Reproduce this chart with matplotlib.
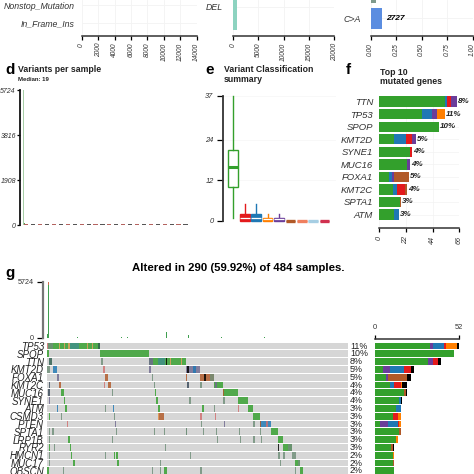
import matplotlib
matplotlib.use('Agg')
import matplotlib.pyplot as plt

plt.rcParams['font.family'] = ['Liberation Sans', 'DejaVu Sans']

W, H = 474, 474

COL = {'g': '#33a02c', 'b': '#1f78b4', 'r': '#e31a1c', 'p': '#6a3d9a', 'o': '#ff7f00',
       'n': '#b15928', 'k': '#000000', 's': '#6f8f78', 't': '#3f8f8a', 'd': '#2f5f4f',
       'l': '#e8a060', 'm': '#d07070', 'v': '#706a90', 'y': '#3a4a5a'}

# top row summary bars
class_names = ['In_Frame_Ins', 'Nonstop_Mutation']
class_counts = [30, 20]
class_ticks = [0, 2000, 4000, 6000, 8000, 10000, 12000, 14000]
type_names = ['DEL']
type_counts = [850]
type_ticks = [0, 5000, 10000, 15000, 20000]
snv_names = ['C>A', 'C>G']
snv_fracs = [0.114, 0.05]
snv_counts = [2727, 1200]
snv_ticks = [0, 0.25, 0.5, 0.75, 1.0]
snv_tick_labels = ['0.00', '0.25', '0.50', '0.75', '1.00']

# variants per sample, sorted
sample_variants = [5724, 520, 130, 70]
tail_variants = [45, 42, 40, 40, 38, 38, 36, 36, 35, 35, 34, 34,
                 33, 33, 32, 32, 31, 31, 30, 30, 30, 29, 29, 28]
variant_ticks = [0, 1908, 3816, 5724]

# classification boxplot stats: whislo, q1, med, q3, whishi
box_colors = ['#33a02c', '#e31a1c', '#1f78b4', '#ff7f00', '#6a3d9a',
              '#b15928', '#ef7f5f', '#a6cee3', '#d0304f']
box_whislo = [1, 0, 0, 0, 0, 0, 0, 0, 0]
box_q1 = [10, 0, 0, 0, 0, 0, 0, 0, 0]
box_med = [16, 1, 1, 0.5, 0.5, 0, 0, 0, 0]
box_q3 = [21, 2, 2, 1, 1, 0, 0, 0, 0]
box_whishi = [37, 5, 5, 2, 2, 0, 0, 0, 0]
box_ticks = [0, 12, 24, 37]

# top 10 genes, stacked by classification
top_genes = ['TTN', 'TP53', 'SPOP', 'KMT2D', 'SYNE1', 'MUC16', 'FOXA1', 'KMT2C', 'SPTA1', 'ATM']
top_pct = ['8%', '11%', '10%', '5%', '4%', '4%', '5%', '4%', '3%', '3%']
top_stacks = [
    [('g', 54), ('b', 1.5), ('r', 4), ('p', 4.7)],
    [('g', 35.5), ('b', 7.7), ('p', 4), ('o', 7)],
    [('g', 49)],
    [('g', 12.4), ('b', 10), ('r', 4.5), ('p', 3.5)],
    [('g', 25), ('r', 1.6), ('p', 0.5)],
    [('g', 23), ('p', 2)],
    [('g', 8), ('b', 2.5), ('p', 2), ('n', 12)],
    [('g', 11), ('b', 4), ('r', 6), ('n', 1.5)],
    [('g', 17), ('n', 1)],
    [('g', 12), ('b', 4)],
]
top_ticks = [0, 22, 44, 66]

# oncoplot
onco_genes = ['TP53', 'SPOP', 'TTN', 'KMT2D', 'FOXA1', 'KMT2C', 'MUC16', 'SYNE1', 'ATM',
              'CSMD3', 'PTEN', 'SPTA1', 'LRP1B', 'RYR2', 'HMCN1', 'MUC17', 'OBSCN']
onco_pct = ['11%', '10%', '8%', '5%', '5%', '4%', '4%', '4%', '3%',
            '3%', '3%', '3%', '3%', '3%', '2%', '2%', '2%']
onco_samples = 484
onco_cells = [
    [(0, 2, 'm'), (2, 86, 'g'), (2, 10, 's'), (20, 22, 'l'), (27, 29, 'l'), (35, 37, 'l'),
     (38, 52, 't'), (65, 67, 'l'), (72, 75, 'l'), (82, 86, 'd')],
    [(0, 3, 'g'), (86, 165, 'g')],
    [(3, 9, 'd'), (87, 90, 's'), (165, 223, 'g'), (165, 170, 'v'), (178, 190, 't'),
     (192, 194, 'k'), (198, 200, 'l'), (215, 217, 'l')],
    [(0, 5, 's'), (10, 16, 'b'), (91, 93, 'm'), (165, 168, 'v'), (223, 246, 'v'), (226, 228, 'k'),
     (235, 240, 'b')],
    [(16, 19, 'v'), (94, 99, 'n'), (169, 171, 's'), (224, 225, 'n'), (247, 268, 'n'),
     (252, 256, 'k'), (262, 268, 's')],
    [(3, 6, 'y'), (20, 23, 'n'), (92, 94, 'm'), (99, 104, 'n'), (172, 174, 's'), (225, 228, 'y'),
     (247, 249, 's'), (268, 283, 'g'), (270, 274, 'v')],
    [(2, 5, 'y'), (23, 27, 'g'), (105, 107, 's'), (174, 176, 'g'), (283, 307, 'g'), (283, 285, 'n')],
    [(3, 5, 'v'), (27, 30, 'g'), (176, 179, 'g'), (229, 231, 's'), (284, 286, 's'), (308, 323, 'g')],
    [(16, 18, 'b'), (30, 33, 'g'), (93, 95, 's'), (106, 108, 'b'), (178, 182, 'g'), (249, 252, 'g'),
     (268, 270, 's'), (307, 309, 'm'), (323, 332, 'g')],
    [(3, 5, 'g'), (23, 25, 's'), (108, 110, 's'), (179, 188, 'n'), (179, 181, 'l'), (247, 249, 'm'),
     (270, 272, 'm'), (332, 342, 'g')],
    [(32, 34, 'm'), (109, 111, 'v'), (248, 250, 's'), (285, 287, 'v'), (332, 334, 's'),
     (342, 360, 'b'), (342, 344, 'n'), (352, 355, 'm')],
    [(3, 5, 's'), (9, 11, 's'), (111, 113, 's'), (172, 174, 's'), (188, 190, 's'), (224, 226, 's'),
     (223, 225, 's'), (251, 253, 's'), (272, 274, 's'), (309, 311, 's'), (342, 344, 's'), (361, 371, 'g')],
    [(3, 5, 's'), (35, 38, 'g'), (105, 107, 's'), (273, 275, 's'), (310, 312, 's'), (332, 334, 's'),
     (344, 346, 's'), (372, 380, 'g')],
    [(4, 6, 'g'), (11, 13, 's'), (37, 39, 'g'), (190, 192, 's'), (371, 373, 'k'), (380, 394, 'g'),
     (388, 394, 's')],
    [(3, 5, 's'), (39, 41, 'g'), (93, 95, 's'), (108, 110, 'g'), (112, 115, 'g'), (230, 232, 's'),
     (372, 374, 's'), (380, 382, 's'), (394, 400, 's')],
    [(3, 5, 's'), (42, 45, 'g'), (113, 116, 'g'), (182, 184, 's'), (374, 376, 's'), (399, 407, 'g'),
     (403, 407, 's')],
    [(1, 4, 'g'), (26, 28, 's'), (169, 171, 's'), (182, 184, 's'), (188, 193, 'g'), (247, 249, 's'),
     (399, 401, 's'), (407, 412, 'g')],
]
burden_samples = [3, 2, 192, 228, 50, 130, 280, 350, 120]
burden_values = [5724, 400, 600, 350, 60, 60, 60, 60, 60]
burden_ticks = [0, 5724]
burden_tops = [(3, 5400, 324)]

side_stacks = [
    [('g', 34), ('p', 2), ('b', 7), ('r', 1), ('o', 7), ('k', 1)],
    [('g', 49)],
    [('g', 33), ('p', 3), ('r', 3), ('k', 2)],
    [('g', 5), ('p', 4), ('b', 9), ('r', 4), ('k', 2)],
    [('g', 7), ('p', 1), ('n', 12), ('k', 2)],
    [('g', 9), ('b', 3), ('r', 4), ('o', 1), ('k', 3)],
    [('g', 18), ('n', 1), ('k', 1)],
    [('g', 15), ('b', 1), ('k', 1)],
    [('g', 13), ('b', 3)],
    [('g', 11), ('r', 3), ('o', 2)],
    [('g', 3), ('p', 5), ('b', 6), ('r', 1), ('o', 1)],
    [('g', 15), ('n', 1)],
    [('g', 13), ('o', 1)],
    [('g', 10), ('n', 1), ('k', 1)],
    [('g', 11), ('o', 1)],
    [('g', 11), ('n', 1)],
    [('g', 12)],
]


def add(x0, y0, x1, y1):
    # axes from pixel box, y measured from the top
    return fig.add_axes([x0 / W, 1 - y1 / H, (x1 - x0) / W, (y1 - y0) / H])


def txt(x, y, s, **kw):
    kw.setdefault('va', 'center')
    fig.text(x / W, 1 - y / H, s, **kw)


def clean(ax, keep):
    for k, sp in ax.spines.items():
        sp.set_visible(k in keep)
        sp.set_linewidth(1.1)
        sp.set_color('#333333')
    ax.set_facecolor('none')


fig = plt.figure(figsize=(W / 100, H / 100), dpi=100)

# first row
ax = add(81.7, 0, 196.7, 36)
clean(ax, ['bottom'])
ax.barh(range(2), class_counts, color='#33a02c', height=0.9)
ax.set_yticks(range(2), class_names, style='italic', fontsize=6.3, color='#333333')
ax.set_ylim(-0.743, 1.314)
ax.set_xlim(0, 14000)
ax.set_xticks(class_ticks, class_ticks, rotation=90, style='italic', fontsize=4.8, color='#333333')
ax.tick_params(axis='y', length=0, pad=5)
ax.tick_params(axis='x', length=3, width=0.9, pad=2)
ax.grid(color='#f3f3f3', lw=0.6)
ax.set_axisbelow(True)

ax = add(233, 0, 334.3, 36)
clean(ax, ['bottom'])
ax.barh(range(1), type_counts, color='#8dd3c0', height=0.98)
ax.set_yticks(range(1), type_names, style='italic', fontsize=6.3, color='#333333')
ax.set_ylim(-0.63, 0.152)
ax.set_xlim(0, 20000)
ax.set_xticks(type_ticks, type_ticks, rotation=90, style='italic', fontsize=4.8, color='#333333')
ax.tick_params(axis='y', length=0, pad=7)
ax.tick_params(axis='x', length=3, width=0.9, pad=2)
ax.grid(color='#f3f3f3', lw=0.6)
ax.set_axisbelow(True)

ax = add(370.7, 0, 472.7, 36)
clean(ax, ['bottom'])
ax.barh(range(2), snv_fracs, color=['#5b8de0', '#7f9a8c'], height=0.82)
ax.set_yticks(range(2), snv_names, style='italic', fontsize=6.3, color='#333333')
ax.set_ylim(-0.686, 0.725)
ax.set_xlim(0, 1)
ax.set_xticks(snv_ticks, snv_tick_labels, rotation=90, style='italic', fontsize=4.8, color='#333333')
ax.tick_params(axis='y', length=0, pad=7)
ax.tick_params(axis='x', length=3, width=0.9, pad=2)
ax.grid(color='#f3f3f3', lw=0.6)
ax.set_axisbelow(True)
ax.text(snv_fracs[0] + 0.04, 0, str(snv_counts[0]), style='italic', weight='bold', fontsize=6,
        va='center')

# panel headings
for x, y, s in [(5, 70.5, 'd'), (205, 70.5, 'e'), (346, 70.5, 'f'), (5, 273, 'g')]:
    txt(x, y, s, fontsize=11, weight='bold')
txt(18, 70, 'Variants per sample', fontsize=6.3, weight='bold', color='#222222')
txt(18, 79.5, 'Median: 19', fontsize=4.3, weight='bold', color='#222222')
txt(224, 70, 'Variant Classification', fontsize=6.3, weight='bold', color='#222222')
txt(224, 79.5, 'summary', fontsize=6.3, weight='bold', color='#222222')
txt(379.5, 72.5, 'Top 10', fontsize=6.3, weight='bold', color='#222222')
txt(379.5, 82, 'mutated genes', fontsize=6.3, weight='bold', color='#222222')
txt(238.5, 268, 'Altered in 290 (59.92%) of 484 samples.', fontsize=8.2, weight='bold', ha='center')

# variants per sample
ax = add(22.5, 90.3, 191, 225)
clean(ax, [])
ax.spines['left'].set_visible(True)
ax.spines['left'].set_position(('outward', 1.8))
ax.spines['left'].set_linewidth(1.3)
ax.spines['left'].set_color('#111111')
ax.bar(range(4), sample_variants, width=1.0, color=['#a8cfa8', '#4f9f4f', '#4f9f4f', '#4f9f4f'])
tail_pos = [8 + 20 * i for i in range(len(tail_variants))]
ax.bar(tail_pos, tail_variants, width=12,
       color=['#555555' if i % 2 else '#b5635f' for i in range(len(tail_variants))])
ax.set_xlim(-3, 484)
ax.set_ylim(0, 5724)
ax.set_xticks([])
ax.set_yticks(variant_ticks, variant_ticks, style='italic', fontsize=5, color='#333333')
ax.tick_params(axis='y', length=2.5, width=0.9, pad=0.5)

# classification boxes
ax = add(223.3, 95.7, 336, 221)
clean(ax, ['left'])
ax.spines['left'].set_linewidth(1.3)
ax.grid(color='#f5f5f5', lw=0.5)
ax.set_axisbelow(True)
for i, c in enumerate(box_colors):
    s = {'whislo': box_whislo[i], 'q1': box_q1[i], 'med': box_med[i], 'q3': box_q3[i],
         'whishi': box_whishi[i], 'fliers': []}
    flat = box_q3[i] == 0
    if i == 0:
        box_face, med_col, med_lw = 'white', c, 2.2
    elif flat:
        box_face, med_col, med_lw = c, c, 2.4
    else:
        box_face, med_col, med_lw = c, 'white', 0.9
    parts = ax.bxp([s], positions=[i + 1], widths=0.85, showcaps=False, showfliers=False,
                   patch_artist=True, boxprops={'edgecolor': c, 'facecolor': box_face, 'lw': 1.0},
                   whiskerprops={'color': c, 'lw': 1.0},
                   medianprops={'color': med_col, 'lw': med_lw, 'solid_capstyle': 'butt'})
    for group in parts.values():
        for artist in group:
            artist.set_clip_on(False)
ax.set_xlim(0.123, 10.0)
ax.set_ylim(0, 37)
ax.set_xticks([])
ax.set_yticks(box_ticks, box_ticks, style='italic', fontsize=5.4, color='#333333')
ax.tick_params(axis='y', length=4, width=0.9, pad=3)

# top 10 genes
ax = add(379.3, 96, 459.3, 227.7)
clean(ax, ['bottom'])
for i, stack in enumerate(top_stacks):
    left = 0
    for key, v in stack:
        ax.barh(i, v, left=left, color=COL[key], height=0.83)
        left += v
    ax.text(left + 1, i, top_pct[i], style='italic', weight='bold', fontsize=5.8, va='center',
            color='#222222')
ax.set_yticks(range(10), top_genes, style='italic', fontsize=6.8, color='#333333')
ax.set_ylim(10.05, -0.45)
ax.set_xlim(0, 66)
ax.set_xticks(top_ticks, top_ticks, rotation=90, style='italic', fontsize=5.2, color='#333333')
ax.tick_params(axis='y', length=0, pad=4.5)
ax.tick_params(axis='x', length=3, width=0.9, pad=3)
ax.grid(color='#f3f3f3', lw=0.5)
ax.set_axisbelow(True)

# burden track above the oncoplot
ax = add(46.7, 282, 348, 338)
clean(ax, [])
ax.spines['left'].set_visible(True)
ax.spines['left'].set_position(('outward', 3))
ax.spines['left'].set_linewidth(1.6)
ax.spines['left'].set_color('#777777')
ax.bar(burden_samples, burden_values, width=1.6, color='#3f9f4f')
for s, g, r in burden_tops:
    ax.bar(s, r, bottom=g, width=1.6, color='#d07050')
ax.axhline(25, color='#9fb5a5', lw=0.7, ls=(0, (2, 2)))
ax.set_xlim(0, onco_samples)
ax.set_ylim(0, 5724)
ax.set_xticks([])
ax.set_yticks(burden_ticks, burden_ticks, fontsize=5.2, color='#333333')
ax.tick_params(axis='y', length=4, width=0.9, pad=2)

# oncoplot matrix
ax = add(46.7, 342.1, 348, 474)
clean(ax, [])
ax.barh(range(len(onco_genes)), [onco_samples] * len(onco_genes), color='#d6d6d6', height=0.85)
for i, row in enumerate(onco_cells):
    for a, b, key in row:
        ax.barh(i, b - a, left=a, color=COL[key], height=0.85, alpha=0.82)
ax.set_xlim(0, onco_samples)
ax.set_ylim(16.41, -0.5)
ax.set_xticks([])
ax.set_yticks(range(len(onco_genes)), onco_genes, style='italic', fontsize=7, color='#222222')
ax.tick_params(axis='y', length=0, pad=2)
for i, p in enumerate(onco_pct):
    ax.text(onco_samples + 3, i, p, fontsize=6.4, va='center', color='#222222')

# per gene side bars
ax = add(375, 342.1, 459, 474)
clean(ax, ['top'])
ax.spines['top'].set_position(('outward', 2.2))
for i, stack in enumerate(side_stacks):
    left = 0
    for key, v in stack:
        ax.barh(i, v, left=left, color=COL[key], height=0.85)
        left += v
ax.set_xlim(0, 52)
ax.set_ylim(16.41, -0.5)
ax.set_yticks([])
ax.xaxis.tick_top()
ax.set_xticks([0, 52], [0, 52], fontsize=5.4, color='#333333')
ax.tick_params(axis='x', length=3, width=0.9, pad=3)

fig.savefig('out.png', dpi=100)
